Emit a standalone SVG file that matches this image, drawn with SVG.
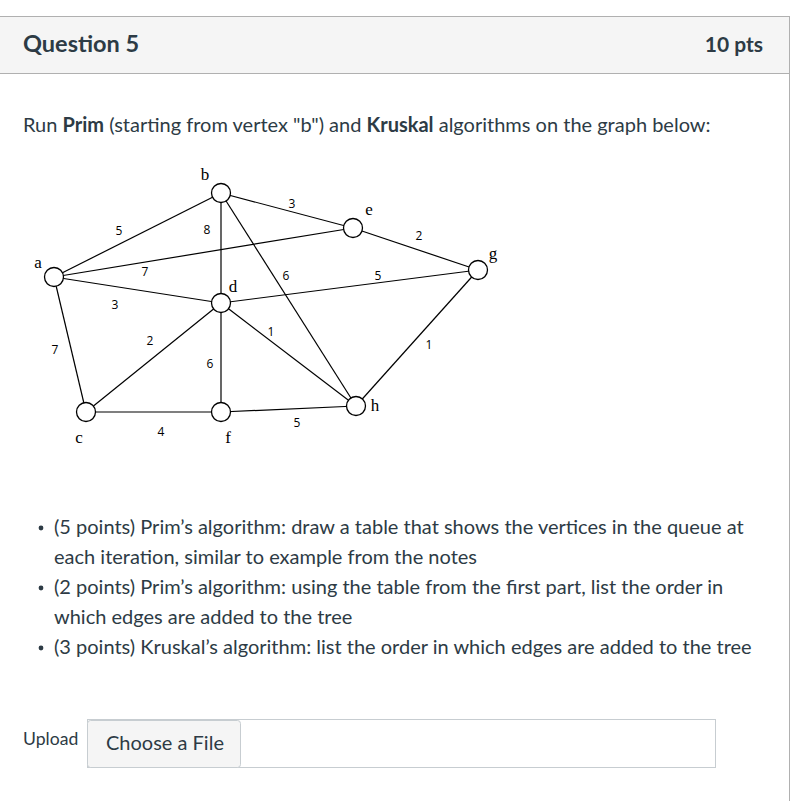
<svg xmlns="http://www.w3.org/2000/svg" width="805" height="801" viewBox="0 0 805 801">
<style>
.t{font-family:Lato,"Open Sans","Liberation Sans",sans-serif;fill:#2d3b45}
.e line{stroke:#000;stroke-width:1.2}
.n circle{fill:#fff;stroke:#000;stroke-width:1.3}
.w{font-family:"Open Sans","Liberation Sans",sans-serif;font-size:12px;fill:#000;text-anchor:middle}
.v{font-family:"Liberation Serif","DejaVu Serif",serif;font-size:17px;fill:#000;text-anchor:middle}
</style>
<rect width="805" height="801" fill="#fff"/>
<rect x="-2" y="16" width="791" height="57.5" fill="#f5f5f5"/>
<line x1="-2" y1="16.5" x2="789.5" y2="16.5" stroke="#b0b0b0"/>
<line x1="-2" y1="73.5" x2="789.5" y2="73.5" stroke="#b0b0b0"/>
<line x1="789.5" y1="16" x2="789.5" y2="801" stroke="#b0b0b0"/>
<text class="t" x="23" y="52" font-size="23.5" font-weight="700">Question 5</text>
<text class="t" x="763" y="52" font-size="21" font-weight="700" text-anchor="end">10 pts</text>
<text class="t" x="23" y="132" font-size="20">Run <tspan font-weight="700">Prim</tspan> (starting from vertex "b") and <tspan font-weight="700">Kruskal</tspan> algorithms on the graph below:</text>
<g id="edges" class="e">
<line x1="54" y1="277" x2="221" y2="193"/>
<line x1="54" y1="277" x2="353" y2="228"/>
<line x1="54" y1="277" x2="221" y2="303"/>
<line x1="54" y1="277" x2="86" y2="412"/>
<line x1="221" y1="193" x2="221" y2="303"/>
<line x1="221" y1="193" x2="353" y2="228"/>
<line x1="221" y1="193" x2="356" y2="406"/>
<line x1="353" y1="228" x2="478" y2="270"/>
<line x1="221" y1="303" x2="478" y2="270"/>
<line x1="221" y1="303" x2="356" y2="406"/>
<line x1="221" y1="303" x2="86" y2="412"/>
<line x1="221" y1="303" x2="221" y2="412"/>
<line x1="86" y1="412" x2="221" y2="412"/>
<line x1="221" y1="412" x2="356" y2="406"/>
<line x1="478" y1="270" x2="356" y2="406"/>
</g>
<g id="edge-labels">
<text class="w" x="119" y="235">5</text>
<text class="w" x="145" y="276">7</text>
<text class="w" x="115" y="309">3</text>
<text class="w" x="55" y="354">7</text>
<text class="w" x="207" y="234">8</text>
<text class="w" x="292" y="208">3</text>
<text class="w" x="286" y="280">6</text>
<text class="w" x="419" y="240">2</text>
<text class="w" x="378" y="280">5</text>
<text class="w" x="271" y="336">1</text>
<text class="w" x="150" y="345">2</text>
<text class="w" x="210" y="368">6</text>
<text class="w" x="161" y="436">4</text>
<text class="w" x="297" y="427">5</text>
<text class="w" x="429" y="349">1</text>
</g>
<g id="node-b" class="n"><circle cx="221" cy="193" r="9.5"/><text class="v" x="205" y="180">b</text></g>
<g id="node-e" class="n"><circle cx="353" cy="228" r="9.5"/><text class="v" x="369" y="215">e</text></g>
<g id="node-g" class="n"><circle cx="478" cy="270" r="9.5"/><text class="v" x="493" y="259">g</text></g>
<g id="node-a" class="n"><circle cx="54" cy="277" r="9.5"/><text class="v" x="38" y="268">a</text></g>
<g id="node-d" class="n"><circle cx="221" cy="303" r="9.5"/><text class="v" x="233" y="292">d</text></g>
<g id="node-c" class="n"><circle cx="86" cy="412" r="9.5"/><text class="v" x="79" y="443">c</text></g>
<g id="node-f" class="n"><circle cx="221" cy="412" r="9.5"/><text class="v" x="228" y="443">f</text></g>
<g id="node-h" class="n"><circle cx="356" cy="406" r="9.5"/><text class="v" x="375" y="411">h</text></g>
<g class="t" font-size="20">
<circle cx="41" cy="528" r="2.4" fill="#2d3b45"/>
<text x="54" y="534">(5 points) Prim’s algorithm: draw a table that shows the vertices in the queue at</text>
<text x="54" y="564">each iteration, similar to example from the notes</text>
<circle cx="41" cy="588" r="2.4" fill="#2d3b45"/>
<text x="54" y="594">(2 points) Prim’s algorithm: using the table from the first part, list the order in</text>
<text x="54" y="624">which edges are added to the tree</text>
<circle cx="41" cy="648" r="2.4" fill="#2d3b45"/>
<text x="54" y="654">(3 points) Kruskal’s algorithm: list the order in which edges are added to the tree</text>
</g>
<text class="t" x="23" y="745" font-size="17.6">Upload</text>
<rect x="87.5" y="719.5" width="628" height="48" fill="#fff" stroke="#c7cdd1"/>
<rect x="87.5" y="720.5" width="153" height="47" rx="3" fill="#f5f5f5" stroke="#c7cdd1"/>
<text class="t" x="106" y="750" font-size="20">Choose a File</text>
</svg>
